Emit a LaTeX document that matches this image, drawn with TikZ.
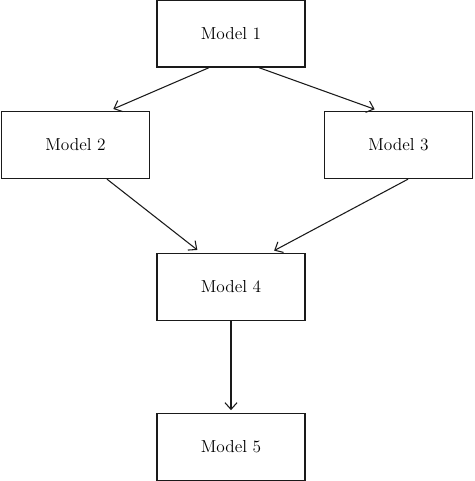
\documentclass[tikz,border=0pt]{standalone}
\usetikzlibrary{arrows.meta}
\definecolor{ModelInk}{HTML}{1A1A1A}

\begin{document}
\begin{tikzpicture}[x=0.75pt,y=-0.75pt,
    modelbox/.style={draw=ModelInk,line width=1pt,minimum width=111pt,
      minimum height=50.25pt,inner sep=0pt,font=\fontsize{13}{15}\selectfont},
    flow/.style={draw=ModelInk,line width=0.8pt,
      -{Straight Barb[length=5pt,width=9pt,line width=0.8pt]}}]
    \useasboundingbox (0,0) rectangle (474,481);

    \node[modelbox] (m1) at (231,33.5) {Model 1};
    \node[modelbox] (m2) at (75.5,145) {Model 2};
    \node[modelbox] (m3) at (398.5,145) {Model 3};
    \node[modelbox] (m4) at (231,287) {Model 4};
    \node[modelbox] (m5) at (231,447) {Model 5};

    \draw[flow,shorten >=3.5pt] ([shift={(-22,0)}]m1.south) -- ([shift={(33.5,0)}]m2.north);
    \draw[flow,shorten >=3.5pt] ([shift={(28,0)}]m1.south) -- ([shift={(-19.5,0)}]m3.north);
    \draw[flow,shorten >=3.5pt] ([shift={(31.5,0)}]m2.south) -- ([shift={(-30,0)}]m4.north);
    \draw[flow,shorten >=3.5pt] ([shift={(9.5,0)}]m3.south) -- ([shift={(39,0)}]m4.north);
    \draw[flow,shorten >=2pt] (m4.south) -- (m5.north);
  \end{tikzpicture}
\end{document}
